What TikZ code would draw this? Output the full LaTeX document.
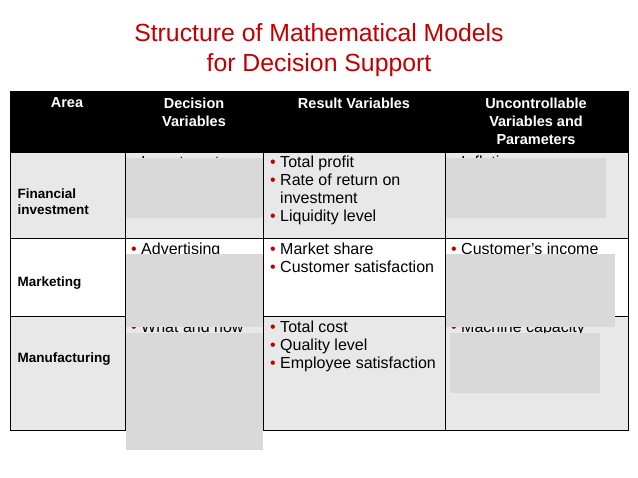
\documentclass[tikz,border=0pt]{standalone}
\usepackage{fontspec}
\setmainfont{Liberation Sans}
\definecolor{titlered}{HTML}{C00000}
\definecolor{rowgray}{HTML}{E8E8E8}
\definecolor{boxgray}{HTML}{D9D9D9}
\begin{document}
\begin{tikzpicture}[x=1pt,y=-1pt,
  hdr/.style={text=white,font=\fontsize{14.5}{18}\selectfont\bfseries,align=center,anchor=north},
  lbl/.style={font=\fontsize{13.5}{16}\selectfont\bfseries,align=left,anchor=west},
  cell/.style={font=\fontsize{16}{18}\selectfont,align=left,anchor=north west,inner sep=0pt},
  cover/.style={fill=boxgray,draw=none}]
\useasboundingbox (0,0) rectangle (638,478);
\node[text=titlered,font=\fontsize{24.8}{30}\selectfont,align=center] (title) at (319,50) {Structure of Mathematical Models\\for Decision Support};
\fill[black] (10,91) rectangle (628,152);
\fill[rowgray] (10,152) rectangle (628,238);
\fill[white] (10,238) rectangle (628,316);
\fill[rowgray] (10,316) rectangle (628,430);
\draw[black,line width=0.8pt] (10,91) rectangle (628,430);
\foreach \y in {152,238,316} \draw[black,line width=0.8pt] (10,\y) -- (628,\y);
\foreach \x in {125,263,445} \draw[black,line width=0.8pt] (\x,91) -- (\x,430);
\node[hdr] (h1) at (67,94) {Area};
\node[hdr] (h2) at (194,94) {Decision\\Variables};
\node[hdr] (h3) at (354,94) {Result Variables};
\node[hdr] (h4) at (536,94) {Uncontrollable\\Variables and\\Parameters};
\node[lbl] (a1) at (14,202) {Financial\\investment};
\node[lbl] (a2) at (14,283) {Marketing};
\node[lbl] (a3) at (14,359) {Manufacturing};
\newcommand{\bul}{\textcolor{titlered}{•}\ }
\node[cell] (c12) at (131,156) {\bul Investment};
\node[cell] (c13) at (270,156) {\bul Total profit\\\bul Rate of return on\\\phantom{\bul}investment\\\bul Liquidity level};
\node[cell] (c14) at (451,156) {\bul Inflation};
\node[cell] (c22) at (131,243) {\bul Advertising};
\node[cell] (c23) at (270,243) {\bul Market share\\\bul Customer satisfaction};
\node[cell] (c24) at (451,243) {\bul Customer’s income};
\node[cell] (c32) at (131,321) {\bul What and how};
\node[cell] (c33) at (270,321) {\bul Total cost\\\bul Quality level\\\bul Employee satisfaction};
\node[cell] (c34) at (451,321) {\bul Machine capacity};
\fill[cover] (126,158) rectangle (263,218);
\fill[cover] (446,158) rectangle (606,218);
\fill[cover] (126,254) rectangle (263,327);
\fill[cover] (446,254) rectangle (615,327);
\fill[cover] (126,333) rectangle (263,450);
\fill[cover] (450,333) rectangle (600,393);
\end{tikzpicture}
\end{document}
